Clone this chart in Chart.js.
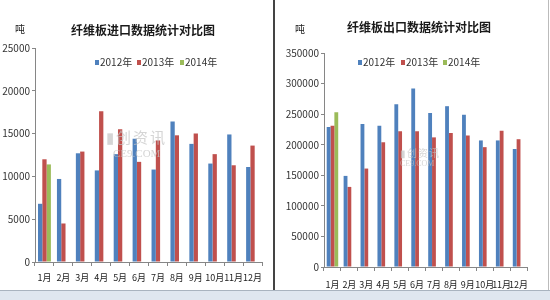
<!DOCTYPE html>
<html>
<head>
<meta charset="utf-8">
<script src="https://cdn.jsdelivr.net/npm/chart.js@4.4.1/dist/chart.umd.min.js"></script>
<style>
  html, body { margin: 0; padding: 0; background: #fff; }
  #page { position: relative; width: 550px; height: 300px; overflow: hidden; background: #fff; }
  .panel { position: absolute; top: 0; }
  #divider { position: absolute; left: 273px; top: 0; width: 2px; height: 291px; background: #444; }
  #edgeR { position: absolute; left: 548px; top: 0; width: 1px; height: 291px; background: #bbb; }
  #bottomBar { position: absolute; left: 0; top: 290px; width: 550px; height: 10px; background: #dfe6ef; border-top: 1px solid #a9b3bf; }
  .wm { position: absolute; color: rgba(195,195,195,0.7); font-family: "Noto Sans CJK SC", sans-serif; white-space: nowrap; pointer-events: none; }
  .wm2 { position: absolute; color: rgba(195,195,195,0.7); font-family: "Liberation Serif", serif; white-space: nowrap; pointer-events: none; }
</style>
</head>
<body>
<div id="page">
  <div class="panel" style="left:0;"><canvas id="importChart" width="273" height="290"></canvas></div>
  <div class="panel" style="left:276px;"><canvas id="exportChart" width="272" height="290"></canvas></div>
  <div id="divider"></div>
  <div id="edgeR"></div>
  <div id="bottomBar"></div>
  <div class="wm" style="left:106px; top:126px; font-size:15px; letter-spacing:2px;">▮创资讯</div>
  <div class="wm2" style="left:113px; top:147px; font-size:11px;">CE9.COM</div>
  <div class="wm" style="left:400px; top:145px; font-size:10px; letter-spacing:1px;">▮创资讯</div>
  <div class="wm2" style="left:400px; top:159px; font-size:8px;">CE9.COM</div>
</div>
<script>
// 月份
const months = ['1月', '2月', '3月', '4月', '5月', '6月', '7月', '8月', '9月', '10月', '11月', '12月'];
const years = ['2012年', '2013年', '2014年'];
const colors = ['#4F81BD', '#C0504D', '#9BBB59'];

// 进口 (吨)
const import2012 = [6800, 9700, 12700, 10700, 12600, 14400, 10800, 16400, 13800, 11500, 14900, 11100];
const import2013 = [12000, 4500, 12900, 17600, 15500, 11700, 14200, 14800, 15000, 12600, 11300, 13600];
const import2014 = [11400];

// 出口 (吨)
const export2012 = [229000, 149000, 234000, 231000, 266000, 292000, 252000, 263000, 249000, 207000, 207000, 193000];
const export2013 = [231000, 131000, 161000, 204000, 222000, 222000, 212000, 219000, 215000, 196000, 223000, 209000];
const export2014 = [253000];

const numFont = '"Liberation Sans Narrow", "Noto Sans CJK SC", sans-serif';
const cjkFont = '"Noto Sans CJK SC", sans-serif';

// title, unit and legend drawn on top (legend floats inside the plot like in Excel)
const overlay = {
    id: 'overlay',
    afterDraw(chart, args, opts) {
        const ctx = chart.ctx;
        ctx.save();
        ctx.fillStyle = '#1a1a1a';
        ctx.textBaseline = 'middle';
        ctx.textAlign = 'center';
        ctx.font = 'bold 12px ' + cjkFont;
        ctx.fillText(opts.title, opts.titleX, opts.titleY);
        ctx.font = '10px ' + cjkFont;
        ctx.fillText('吨', opts.unitX, opts.unitY);
        ctx.textAlign = 'left';
        ctx.font = '10px ' + numFont;
        chart.data.datasets.forEach((ds, i) => {
            const x = opts.legendX[i];
            ctx.fillStyle = ds.backgroundColor;
            ctx.fillRect(x, opts.legendY - 2, 4, 5);
            ctx.fillStyle = '#333';
            ctx.fillText(ds.label, x + 5, opts.legendY);
        });
        ctx.restore();
    }
};

function makeDatasets(a, b, c) {
    return [a, b, c].map((d, i) => ({
        label: years[i],
        data: d,
        backgroundColor: colors[i],
        borderWidth: 0,
        categoryPercentage: 0.68,
        barPercentage: 1.0
    }));
}

function makeChart(id, datasets, yMax, yStep, cfg) {
    const ctx = document.getElementById(id);
    return new Chart(ctx, {
        type: 'bar',
        data: { labels: months, datasets: datasets },
        plugins: [overlay],
        options: {
            responsive: false,
            animation: false,
            layout: { padding: { top: cfg.top, right: cfg.right, left: 0, bottom: 0 } },
            plugins: {
                legend: { display: false },
                title: { display: false },
                tooltip: { enabled: false },
                overlay: cfg.overlay
            },
            scales: {
                x: {
                    grid: { display: true, drawOnChartArea: false, drawTicks: true, tickLength: 4, color: '#868686', offset: true },
                    border: { color: '#868686' },
                    ticks: { color: '#222', font: { size: 9, family: numFont }, padding: cfg.xPad, maxRotation: 0, autoSkip: false },
                    afterFit: s => { s.height = cfg.xHeight; }
                },
                y: {
                    min: 0,
                    max: yMax,
                    ticks: {
                        stepSize: yStep,
                        color: '#333',
                        font: { size: 10, family: numFont },
                        padding: 2,
                        callback: v => String(v)
                    },
                    grid: { display: true, drawOnChartArea: false, drawTicks: true, tickLength: 3, color: '#868686' },
                    border: { color: '#868686' },
                    afterFit: s => { s.width = cfg.yWidth; }
                }
            }
        }
    });
}

makeChart('importChart', makeDatasets(import2012, import2013, import2014), 25000, 5000, {
    top: 48, right: 11, yWidth: 35, xHeight: 28, xPad: 6,
    overlay: {
        title: '纤维板进口数据统计对比图', titleX: 143, titleY: 30,
        unitX: 20, unitY: 29,
        legendX: [95, 137, 180], legendY: 62
    }
});

makeChart('exportChart', makeDatasets(export2012, export2013, export2014), 350000, 50000, {
    top: 53, right: 21, yWidth: 48, xHeight: 23, xPad: 8,
    overlay: {
        title: '纤维板出口数据统计对比图', titleX: 143, titleY: 27,
        unitX: 24, unitY: 29,
        legendX: [82, 125, 167], legendY: 62
    }
});
</script>
</body>
</html>
